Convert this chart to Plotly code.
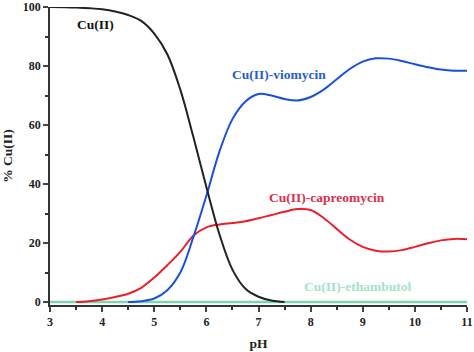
import plotly.graph_objects as go

ph_cu = [3, 3.5, 4, 4.25, 4.5, 4.75, 5, 5.25, 5.5, 5.75, 6, 6.25, 6.5, 6.75, 7, 7.25, 7.5]
cu = [100, 99.8, 99.2, 98.5, 97.3, 95.3, 91, 84, 72, 56, 39, 23, 11, 4.5, 1.8, 0.5, 0]

ph_vio = [4.5, 4.75, 5, 5.25, 5.5, 5.75, 6, 6.25, 6.5, 6.75, 7, 7.25, 7.5, 7.75, 8, 8.25, 8.5,
          8.75, 9, 9.25, 9.5, 9.75, 10, 10.25, 10.5, 10.75, 11]
vio = [0, 0.3, 1.2, 4, 10, 22, 36, 51, 62, 68, 70.5, 70, 68.8, 68.3, 69.5, 72, 75.5,
       79, 81.5, 82.6, 82.5, 81.7, 80.6, 79.6, 78.8, 78.4, 78.4]

ph_cap = [3.5, 3.75, 4, 4.25, 4.5, 4.75, 5, 5.25, 5.5, 5.75, 6, 6.25, 6.5, 6.75, 7, 7.25, 7.5,
          7.75, 8, 8.25, 8.5, 8.75, 9, 9.25, 9.5, 9.75, 10, 10.25, 10.5, 10.75, 11]
cap = [0, 0.3, 0.9, 1.7, 2.8, 4.8, 8.3, 12.5, 17, 22.5, 25.3, 26.3, 26.8, 27.4, 28.4, 29.5, 30.6,
       31.5, 31.2, 28.5, 24.8, 21.2, 18.7, 17.4, 17.1, 17.6, 18.7, 19.9, 20.9, 21.4, 21.3]

ph_eth = [3, 11]
eth = [0, 0]

x_ticks = [3, 4, 5, 6, 7, 8, 9, 10, 11]
y_ticks = [0, 20, 40, 60, 80, 100]

FONT = "Liberation Serif"

fig = go.Figure()
fig.add_trace(go.Scatter(x=ph_eth, y=eth, mode="lines", line=dict(color="#7fd3ae", width=2.5)))
fig.add_trace(go.Scatter(x=ph_cap, y=cap, mode="lines", line=dict(color="#e8202c", width=2, shape="spline")))
fig.add_trace(go.Scatter(x=ph_vio, y=vio, mode="lines", line=dict(color="#1a50d8", width=2, shape="spline")))
fig.add_trace(go.Scatter(x=ph_cu, y=cu, mode="lines", line=dict(color="#222222", width=2, shape="spline")))

labels = [
    (3.88, 94, "Cu(II)", "#111111"),
    (7.4, 77, "Cu(II)-viomycin", "#2a5cc8"),
    (8.32, 35.6, "Cu(II)-capreomycin", "#d8304e"),
    (8.9, 5.2, "Cu(II)-ethambutol", "#a6e2c6"),
]
for x, y, t, c in labels:
    fig.add_annotation(x=x, y=y, text="<b>" + t + "</b>", showarrow=False,
                       font=dict(family=FONT, size=13.5, color=c))

fig.update_xaxes(range=[3, 11], tickvals=x_ticks, ticks="outside", ticklen=5, tickwidth=1.5,
                 showline=True, linecolor="#333333", linewidth=1.5, showgrid=False, zeroline=False,
                 automargin=False,
                 tickfont=dict(family=FONT, size=12, color="#222222", weight="bold"),
                 minor=dict(dtick=0.5, ticks="outside", ticklen=3, tickcolor="#333333"),
                 title=dict(text="<b>pH</b>", font=dict(family=FONT, size=13.5, color="#222222"), standoff=10))
fig.update_yaxes(range=[-1, 100], tickvals=y_ticks, ticks="outside", ticklen=5, tickwidth=1.5,
                 showline=True, linecolor="#333333", linewidth=1.5, showgrid=False, zeroline=False,
                 automargin=False,
                 tickfont=dict(family=FONT, size=12, color="#222222", weight="bold"),
                 minor=dict(dtick=10, ticks="outside", ticklen=3, tickcolor="#333333"),
                 title=dict(text="<b>% Cu(II)</b>", font=dict(family=FONT, size=13.5, color="#222222"), standoff=8))

fig.update_layout(width=474, height=352, margin=dict(l=50, r=7, t=7, b=47),
                  plot_bgcolor="white", paper_bgcolor="white", showlegend=False)

fig.write_html("out.html")
